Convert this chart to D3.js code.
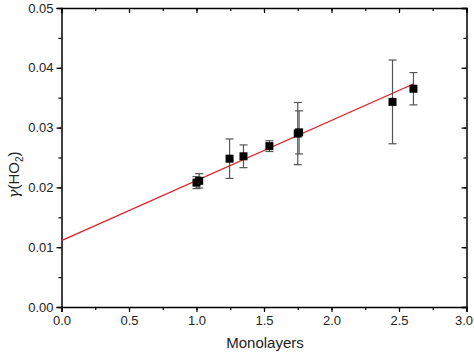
<!DOCTYPE html>
<html><head><meta charset="utf-8">
<script src="https://cdn.jsdelivr.net/npm/d3@7"></script>
<style>body{margin:0;background:#fff;} svg{display:block;font-family:"Liberation Sans",Arial,sans-serif;}</style>
</head><body>
<script>
const monolayers = [1.00, 1.02, 1.245, 1.348, 1.54, 1.75, 1.76, 2.452, 2.607];
const gamma      = [0.0208, 0.0211, 0.0248, 0.0252, 0.0269, 0.0290, 0.0292, 0.0343, 0.0365];
const gammaErr   = [0.0010, 0.0012, 0.0033, 0.0019, 0.0009, 0.0052, 0.0036, 0.0070, 0.0027];
const fitIntercept = 0.0111;
const fitSlope = 0.01005;
const fitRange = [0, 2.61];
const xTicks = [0, 0.5, 1, 1.5, 2, 2.5, 3];
const yTicks = [0, 0.01, 0.02, 0.03, 0.04, 0.05];

const W = 474, H = 358;
const svg = d3.select("body").append("svg").attr("width", W).attr("height", H);
const x = d3.scaleLinear().domain([0, 3]).range([61.5, 466.5]);
const y = d3.scaleLinear().domain([0, 0.05]).range([307, 8]);

const xMinor = d3.range(0, 3.001, 0.25);
const yMinor = d3.range(0, 0.0501, 0.005);

// bottom axis
const gb = svg.append("g").attr("transform", `translate(0,${y(0)})`)
  .call(d3.axisBottom(x).tickValues(xTicks).tickFormat(d3.format(".1f")).tickSize(5).tickPadding(4));
svg.append("g").attr("transform", `translate(0,${y(0)})`)
  .call(d3.axisBottom(x).tickValues(xMinor).tickFormat("").tickSize(3)).select(".domain").remove();
// left axis
const gl = svg.append("g").attr("transform", `translate(${x(0)},0)`)
  .call(d3.axisLeft(y).tickValues(yTicks).tickFormat(d3.format(".2f")).tickSize(5).tickPadding(3));
svg.append("g").attr("transform", `translate(${x(0)},0)`)
  .call(d3.axisLeft(y).tickValues(yMinor).tickFormat("").tickSize(3)).select(".domain").remove();
// top axis (inward)
svg.append("g").attr("transform", `translate(0,${y(0.05)})`)
  .call(d3.axisBottom(x).tickValues(xTicks).tickFormat("").tickSize(5));
svg.append("g").attr("transform", `translate(0,${y(0.05)})`)
  .call(d3.axisBottom(x).tickValues(xMinor).tickFormat("").tickSize(3)).select(".domain").remove();
// right axis (inward)
svg.append("g").attr("transform", `translate(${x(3)},0)`)
  .call(d3.axisLeft(y).tickValues(yTicks).tickFormat("").tickSize(5));
svg.append("g").attr("transform", `translate(${x(3)},0)`)
  .call(d3.axisLeft(y).tickValues(yMinor).tickFormat("").tickSize(3)).select(".domain").remove();

svg.selectAll(".domain").attr("stroke", "#000").attr("stroke-width", 1.5);
svg.selectAll(".tick line").attr("stroke", "#000").attr("stroke-width", 1.2);
svg.selectAll(".tick text").attr("font-size", 13).attr("fill", "#222")
  .attr("font-family", "'Liberation Sans',Arial,sans-serif");
// keep last x label inside the window, as in the reference
gb.selectAll(".tick text").filter(d => d === 3).attr("text-anchor", "end").attr("dx", 6);

// fit line
svg.append("line")
  .attr("x1", x(fitRange[0])).attr("y1", y(fitIntercept + fitSlope * fitRange[0]))
  .attr("x2", x(fitRange[1])).attr("y2", y(fitIntercept + fitSlope * fitRange[1]))
  .attr("stroke", "#e0202a").attr("stroke-width", 1.3);

const data = monolayers.map((m, i) => ({m, g: gamma[i], e: gammaErr[i]}));
const eb = svg.append("g").attr("stroke", "#555").attr("stroke-width", 1.2);
data.forEach(d => {
  eb.append("line").attr("x1", x(d.m)).attr("x2", x(d.m)).attr("y1", y(d.g - d.e)).attr("y2", y(d.g + d.e));
  [d.g - d.e, d.g + d.e].forEach(v =>
    eb.append("line").attr("x1", x(d.m) - 4).attr("x2", x(d.m) + 4).attr("y1", y(v)).attr("y2", y(v)));
});
svg.append("g").selectAll("rect").data(data).join("rect")
  .attr("x", d => x(d.m) - 4).attr("y", d => y(d.g) - 4)
  .attr("width", 8).attr("height", 8).attr("fill", "#000");

// labels
svg.append("text").attr("x", 265).attr("y", 348).attr("text-anchor", "middle")
  .attr("font-size", 15).attr("fill", "#222").text("Monolayers");
const yl = svg.append("text").attr("transform", "translate(19,175) rotate(-90)")
  .attr("text-anchor", "middle").attr("font-size", 15).attr("fill", "#222");
yl.append("tspan").attr("font-style", "italic").attr("font-family", "'DejaVu Serif',serif").text("γ");
yl.append("tspan").text("(HO");
yl.append("tspan").attr("font-size", 10).attr("dy", 4).text("2");
yl.append("tspan").attr("dy", -4).text(")");
</script>
</body></html>
